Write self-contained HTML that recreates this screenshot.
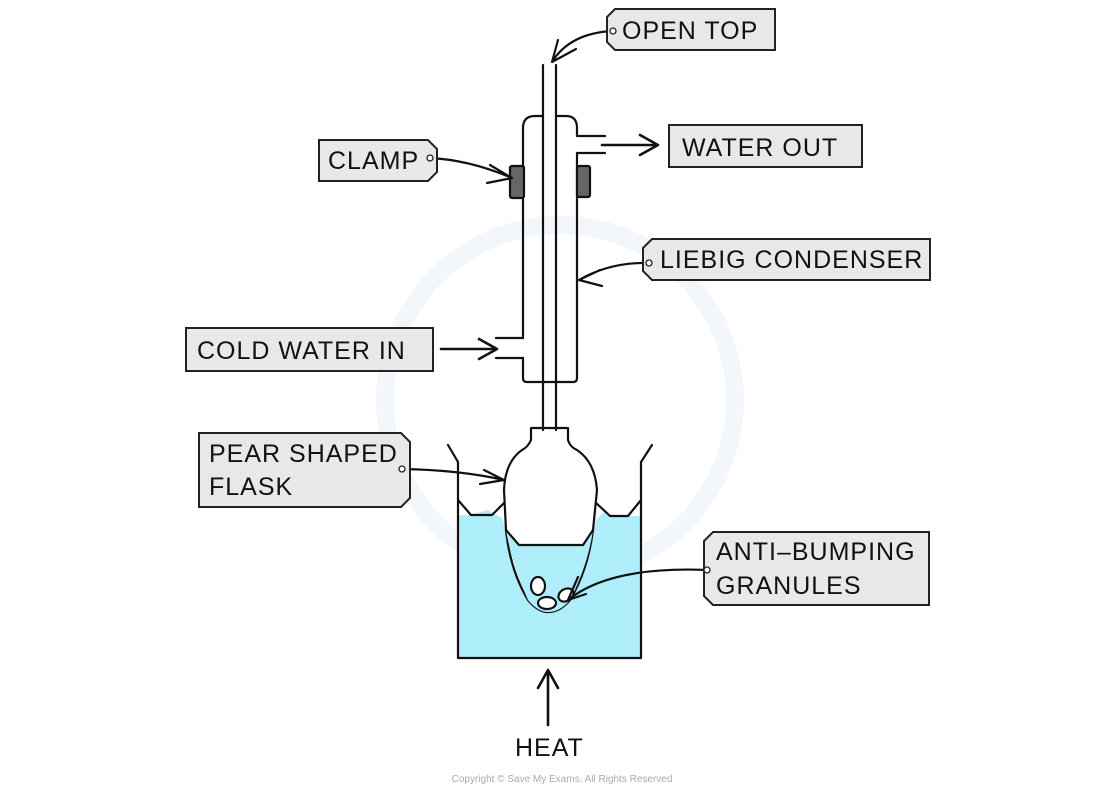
<!DOCTYPE html>
<html><head><meta charset="utf-8"><style>
html,body{margin:0;padding:0;background:#fff;}
svg{display:block;}
text{font-family:"Liberation Sans",sans-serif;font-size:25px;fill:#111;letter-spacing:1px;}
</style></head><body>
<svg width="1100" height="789" viewBox="0 0 1100 789" xmlns="http://www.w3.org/2000/svg">
<circle cx="560" cy="400" r="175" fill="none" stroke="#f3f7fb" stroke-width="18"/>
<g fill="none" stroke="#111" stroke-width="2.2" stroke-linecap="round" stroke-linejoin="round">
<path d="M458 515 L470 515 L488 510 L502 518 L506 530 Q510 560 528 600 Q540 612 548 612 Q560 612 570 600 Q588 560 596 520 L606 510 L612 516 L641 516 L641 658 L458 658 Z" fill="#aeeefb" stroke="none"/>
<path d="M448 445 L458 462 L458 658 L641 658 L641 462 L652 445"/>
<path d="M458 500 L471 515 L492 515 L505 502"/>
<path d="M595 502 L610 516 L628 516 L641 500"/>
<path d="M531 428 L531 440 Q528 447 522 450 Q505 462 504 490 L506 530 Q510 570 528 600 Q538 612 548 612 Q560 612 570 600 Q588 570 593 530 L597 490 Q595 462 577 450 Q570 447 568 440 L568 428 Z" fill="#fff" stroke="none"/>
<path d="M531 428 L531 440 Q528 447 522 450 Q505 462 504 490 L506 530 Q510 570 528 600 Q538 612 548 612 Q560 612 570 600 Q588 570 593 530 L597 490 Q595 462 577 450 Q570 447 568 440 L568 428 Z"/>
<path d="M506 530 Q512 565 528 600 Q538 612 548 612 Q560 612 570 600 Q588 565 593 530 L583 545 L519 545 Z" fill="#aeeefb" stroke="none"/>
<path d="M506 530 L519 545 L583 545 L593 530"/>
<ellipse cx="538" cy="586" rx="7" ry="9" fill="#fff"/>
<ellipse cx="547" cy="603" rx="9" ry="6" fill="#fff"/>
<ellipse cx="566" cy="595" rx="8" ry="6" fill="#fff" transform="rotate(-30 566 595)"/>
<path d="M523 338 L523 128 Q523 116 535 116 L543 116"/>
<path d="M523 358 L523 378 Q523 382 527 382 L573 382 Q577 382 577 378 L577 153 L605 153"/>
<path d="M556 116 L566 116 Q577 116 577 128 L577 136 L605 136"/>
<path d="M523 338 L496 338 M496 358 L523 358"/>
<line x1="543" y1="65" x2="543" y2="430"/>
<line x1="556" y1="65" x2="556" y2="430"/>
<rect x="510" y="166" width="14" height="32" rx="2" fill="#666"/>
<rect x="577" y="166" width="13" height="31" rx="2" fill="#666"/>
<path d="M602 145 L658 145 M640 135 L658 145 L640 155" stroke-width="2.6"/>
<path d="M441 349 L497 349 M479 339 L497 349 L479 359" stroke-width="2.6"/>
<path d="M548 725 L548 670 M538 688 L548 670 L558 688" stroke-width="2.6"/>
<path d="M613 31 Q570 33 552 62 M558 40 L552 62 L576 49"/>
<path d="M430 158 Q470 160 512 178 M490 165 L512 178 L487 183"/>
<path d="M649 263 Q610 262 579 280 M600 270 L579 280 L602 286"/>
<path d="M402 469 Q460 470 504 480 M484 470 L504 480 L480 484"/>
<path d="M707 570 Q610 566 568 600 M578 577 L568 600 L586 594"/>
</g>
<g fill="#e8e8e8" stroke="#222" stroke-width="2">
<path d="M615 9 L775 9 L775 50 L615 50 L607 42 L607 17 Z"/>
<rect x="669" y="125" width="193" height="42"/>
<path d="M319 140 L428 140 L437 149 L437 172 L428 181 L319 181 Z"/>
<path d="M652 239 L930 239 L930 280 L652 280 L643 271 L643 248 Z"/>
<rect x="186" y="328" width="247" height="43"/>
<path d="M199 433 L401 433 L410 442 L410 498 L401 507 L199 507 Z"/>
<path d="M713 532 L929 532 L929 605 L713 605 L704 596 L704 541 Z"/>
</g>
<g fill="#fff" stroke="#222" stroke-width="1.3">
<circle cx="613" cy="31" r="3"/><circle cx="430" cy="158" r="3"/><circle cx="649" cy="263" r="3"/>
<circle cx="402" cy="469" r="3"/><circle cx="707" cy="570" r="3"/>
</g>
<text x="622" y="39">OPEN  TOP</text>
<text x="682" y="156">WATER  OUT</text>
<text x="328" y="169">CLAMP</text>
<text x="660" y="268">LIEBIG  CONDENSER</text>
<text x="197" y="359">COLD WATER  IN</text>
<text x="209" y="462">PEAR  SHAPED</text>
<text x="209" y="495">FLASK</text>
<text x="716" y="560">ANTI–BUMPING</text>
<text x="716" y="594">GRANULES</text>
<text x="515" y="756">HEAT</text>
<text x="562" y="782" text-anchor="middle" style="font-size:10px;fill:#aaa;letter-spacing:0">Copyright © Save My Exams. All Rights Reserved</text>
</svg>
</body></html>
